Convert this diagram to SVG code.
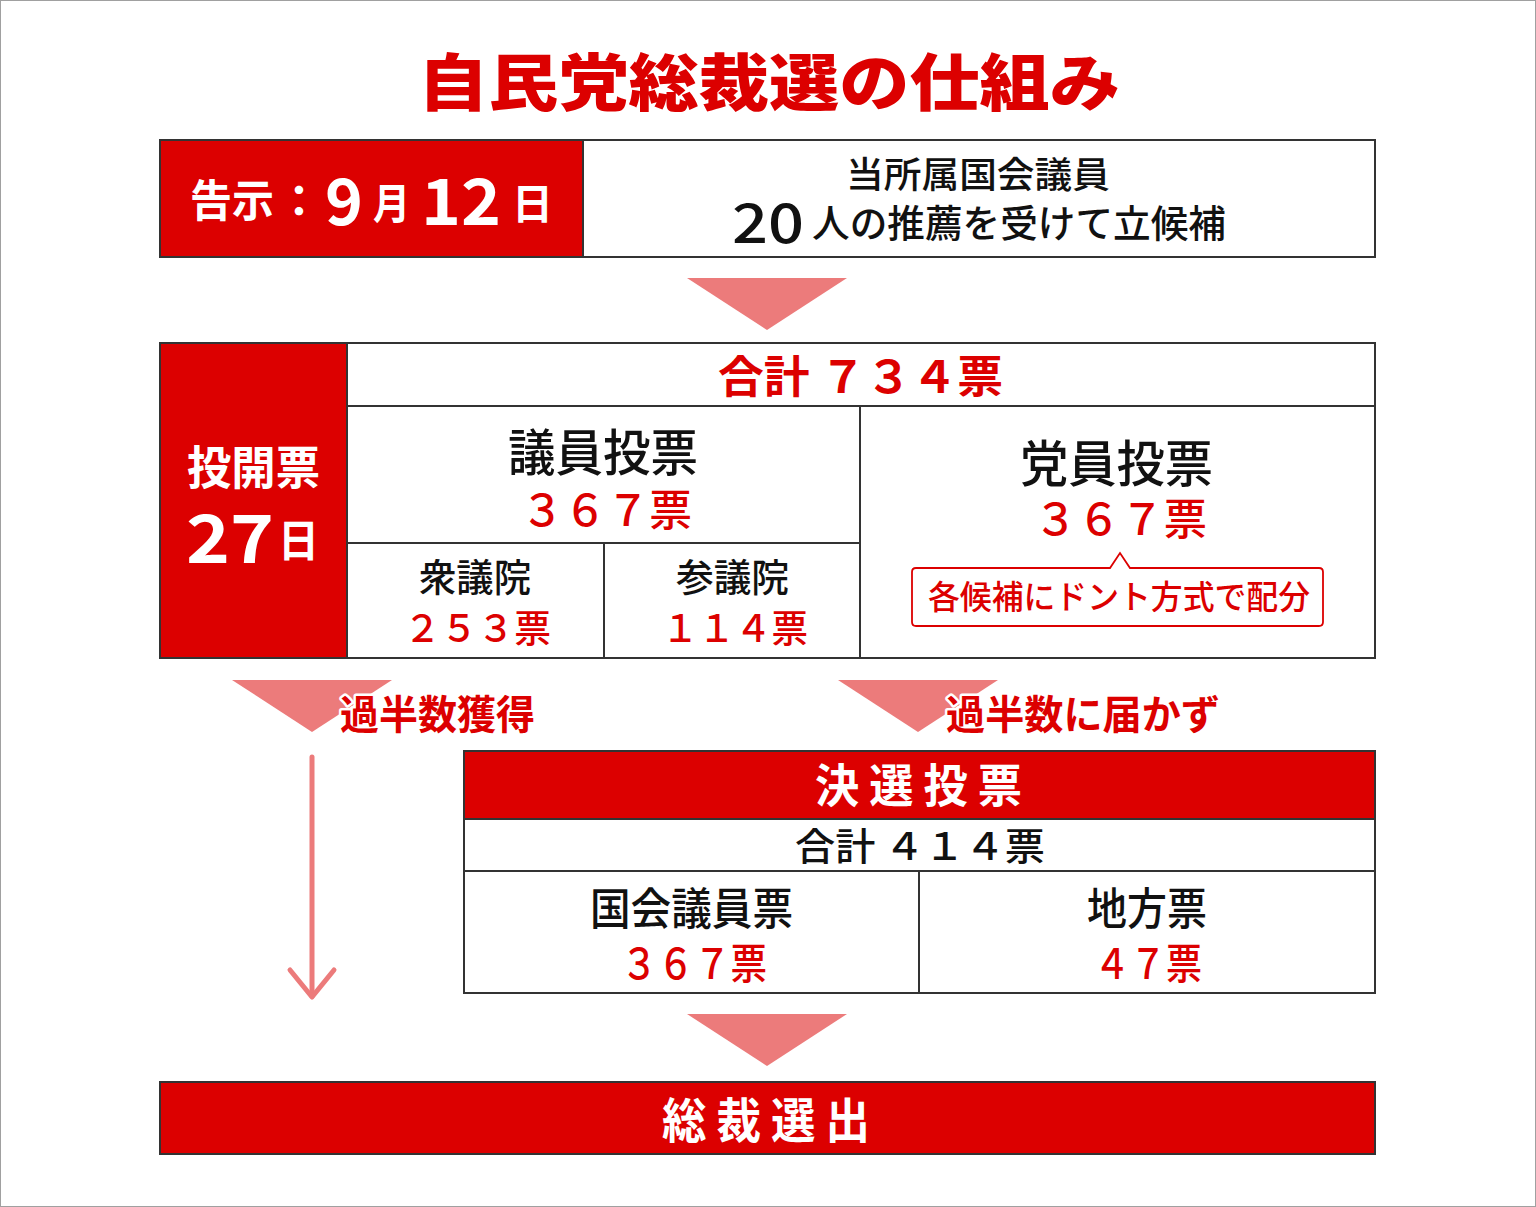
<svg xmlns="http://www.w3.org/2000/svg" width="1536" height="1207" viewBox="0 0 1536 1207">
<style>
.t{font-family:"Noto Sans CJK JP","Noto Sans",sans-serif;dominant-baseline:central}
.b{font-weight:700}
.k{font-weight:900}
.m{font-weight:500}
.w{fill:#ffffff}
.r{fill:#dc0000}
.d{fill:#111111}
.box{fill:#ffffff;stroke:#333333;stroke-width:2}
.red{fill:#dc0000;stroke:#333333;stroke-width:2}
.tri{fill:#ec7b7b}
.lbl{paint-order:stroke;stroke:#ffffff;stroke-width:5;stroke-linejoin:round}
</style>
<rect x="0" y="0" width="1536" height="1207" fill="#ffffff"/>
<rect x="0.5" y="0.5" width="1535" height="1206" fill="none" stroke="#a0a0a0" stroke-width="1"/>

<g id="title">
<text class="t k r" x="418" y="79" font-size="62" textLength="702" lengthAdjust="spacingAndGlyphs">自民党総裁選の仕組み</text>
</g>

<g id="announce">
<rect class="red" x="160" y="140" width="423" height="117"/>
<text class="t b w" x="190" y="198" font-size="44" textLength="84" lengthAdjust="spacingAndGlyphs">告示</text>
<text class="t b w" x="277" y="198" font-size="44">：</text>
<text class="t b w" x="325" y="197" font-size="64" textLength="38" lengthAdjust="spacingAndGlyphs">9</text>
<text class="t b w" x="373" y="200" font-size="42" textLength="37" lengthAdjust="spacingAndGlyphs">月</text>
<text class="t b w" x="421" y="197" font-size="64" textLength="80" lengthAdjust="spacingAndGlyphs">12</text>
<text class="t b w" x="512" y="200" font-size="42" textLength="41" lengthAdjust="spacingAndGlyphs">日</text>
</g>

<g id="candidacy">
<rect class="box" x="583" y="140" width="792" height="117"/>
<text class="t d m" x="846" y="172" font-size="36" textLength="264" lengthAdjust="spacingAndGlyphs">当所属国会議員</text>
<text class="t d m" x="732" y="219" font-size="54" textLength="72" lengthAdjust="spacingAndGlyphs">20</text>
<text class="t d m" x="812" y="220" font-size="38" textLength="414" lengthAdjust="spacingAndGlyphs">人の推薦を受けて立候補</text>
</g>

<g id="connectors">
<polygon class="tri" points="687,278 847,278 767,330"/>
<polygon class="tri" points="232,680 392,680 312,732"/>
<polygon class="tri" points="838,680 998,680 918,732"/>
<polygon class="tri" points="687,1014 847,1014 767,1066"/>
<line x1="312" y1="757" x2="312" y2="996" stroke="#ec7b7b" stroke-width="5" stroke-linecap="round"/>
<polyline points="290,970 312,997 334,970" fill="none" stroke="#ec7b7b" stroke-width="5" stroke-linecap="round" stroke-linejoin="round"/>
<text class="t b r lbl" x="340" y="712" font-size="40" textLength="195" lengthAdjust="spacingAndGlyphs">過半数獲得</text>
<text class="t b r lbl" x="946" y="712" font-size="40" textLength="274" lengthAdjust="spacingAndGlyphs">過半数に届かず</text>
</g>

<g id="vote-date">
<rect class="red" x="160" y="343" width="187" height="315"/>
<text class="t b w" x="187" y="464" font-size="46" textLength="133" lengthAdjust="spacingAndGlyphs">投開票</text>
<text class="t b w" x="186" y="534" font-size="66" textLength="88" lengthAdjust="spacingAndGlyphs">27</text>
<text class="t b w" x="278" y="538" font-size="44" textLength="41" lengthAdjust="spacingAndGlyphs">日</text>
</g>

<g id="total-734">
<rect class="box" x="347" y="343" width="1028" height="63"/>
<text class="t b r" x="718" y="374" font-size="44" textLength="285" lengthAdjust="spacingAndGlyphs">合計 ７３４票</text>
</g>

<g id="diet-vote">
<rect class="box" x="347" y="406" width="513" height="137"/>
<text class="t d m" x="508" y="449" font-size="50" textLength="190" lengthAdjust="spacingAndGlyphs">議員投票</text>
<text class="t r m" x="521" y="507" font-size="43" textLength="171" lengthAdjust="spacingAndGlyphs">３６７票</text>
</g>

<g id="lower-house">
<rect class="box" x="347" y="543" width="257" height="115"/>
<text class="t d m" x="419" y="574" font-size="38" textLength="112" lengthAdjust="spacingAndGlyphs">衆議院</text>
<text class="t r m" x="404" y="625" font-size="38" textLength="147" lengthAdjust="spacingAndGlyphs">２５３票</text>
</g>

<g id="upper-house">
<rect class="box" x="604" y="543" width="256" height="115"/>
<text class="t d m" x="676" y="574" font-size="38" textLength="113" lengthAdjust="spacingAndGlyphs">参議院</text>
<text class="t r m" x="662" y="625" font-size="38" textLength="146" lengthAdjust="spacingAndGlyphs">１１４票</text>
</g>

<g id="member-vote">
<rect class="box" x="860" y="406" width="515" height="252"/>
<text class="t d m" x="1020" y="460" font-size="50" textLength="193" lengthAdjust="spacingAndGlyphs">党員投票</text>
<text class="t r m" x="1034" y="516" font-size="43" textLength="173" lengthAdjust="spacingAndGlyphs">３６７票</text>
<path d="M916,568 H1110 L1120,553 L1130,568 H1319 Q1323,568 1323,572 V622 Q1323,626 1319,626 H916 Q912,626 912,622 V572 Q912,568 916,568 Z" fill="#ffffff" stroke="#dc0000" stroke-width="1.8"/>
<text class="t r m" x="928" y="595" font-size="33" textLength="382" lengthAdjust="spacingAndGlyphs">各候補にドント方式で配分</text>
</g>

<g id="runoff">
<rect class="red" x="464" y="751" width="911" height="68"/>
<text class="t b w" x="815" y="782" font-size="46" textLength="207" lengthAdjust="spacingAndGlyphs">決 選 投 票</text>
</g>

<g id="total-414">
<rect class="box" x="464" y="819" width="911" height="52"/>
<text class="t d m" x="795" y="843" font-size="38" textLength="250" lengthAdjust="spacingAndGlyphs">合計 ４１４票</text>
</g>

<g id="diet-runoff">
<rect class="box" x="464" y="871" width="455" height="122"/>
<text class="t d m" x="590" y="906" font-size="44" textLength="203" lengthAdjust="spacingAndGlyphs">国会議員票</text>
<text class="t r m" x="621" y="960" font-size="42" textLength="146" lengthAdjust="spacingAndGlyphs">３６７票</text>
</g>

<g id="local-runoff">
<rect class="box" x="919" y="871" width="456" height="122"/>
<text class="t d m" x="1087" y="906" font-size="44" textLength="120" lengthAdjust="spacingAndGlyphs">地方票</text>
<text class="t r m" x="1094" y="960" font-size="42" textLength="108" lengthAdjust="spacingAndGlyphs">４７票</text>
</g>

<g id="elected">
<rect class="red" x="160" y="1082" width="1215" height="72"/>
<text class="t b w" x="662" y="1117" font-size="48" textLength="208" lengthAdjust="spacingAndGlyphs">総 裁 選 出</text>
</g>
</svg>
